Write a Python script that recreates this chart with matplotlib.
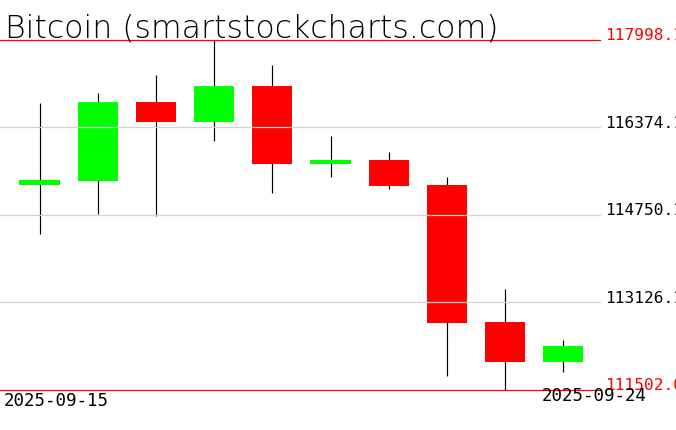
import matplotlib
matplotlib.use("Agg")
import matplotlib.pyplot as plt
import matplotlib.transforms as mtransforms
import numpy as np

# daily candles
dates = ["2025-09-15", "2025-09-16", "2025-09-17", "2025-09-18", "2025-09-19",
         "2025-09-20", "2025-09-21", "2025-09-22", "2025-09-23", "2025-09-24"]
opens = [115299, 115374, 116834, 116469, 117131, 115689, 115758, 115299, 112751, 112014]
highs = [116816, 117001, 117335, 117998.14, 117521, 116198, 115901, 115442, 113364, 112417]
lows = [114390, 114755, 114724, 116116, 115140, 115455, 115225, 111754, 111502.04, 111829]
closes = [115387, 116834, 116469, 117131, 115689, 115758, 115281, 112738, 112014, 112306]

title = "Bitcoin (smartstockcharts.com)"

W, H = 676, 431
fig = plt.figure(figsize=(W / 100, H / 100), dpi=100)
ax = fig.add_axes([0, (H - 390.5) / H, 600 / W, 350 / H])

x = np.arange(len(dates))
o = np.array(opens)
c = np.array(closes)
cols = ["#00ff00" if c[i] >= o[i] else "#ff0000" for i in range(len(x))]

ax.vlines(x, lows, highs, color="black", lw=0.85, zorder=1)
ax.bar(x, np.abs(c - o), bottom=np.minimum(o, c), width=0.69, color=cols, zorder=2)

lo = min(lows)
hi = max(highs)
levels = np.linspace(lo, hi, 5)
trans = mtransforms.blended_transform_factory(ax.transAxes, ax.transData)
for i, lv in enumerate(levels):
    edge = i == 0 or i == len(levels) - 1
    col = "#ff0000" if edge else "#d3d3d3"
    ax.axhline(lv, color=col, lw=0.9, zorder=3, clip_on=False)
    ax.text(605 / 600, lv, "%.1f" % lv, transform=trans, va="baseline", ha="left",
            color="#ff0000" if edge else "black", fontsize=11.6,
            family="DejaVu Sans Mono", clip_on=False)

ax.set_xlim(-0.68, 9.63)
ax.set_ylim(lo, hi)
ax.axis("off")

fig.text(5 / W, (H - 37) / H, title, fontsize=22.7, fontweight="light",
         color="black", va="baseline", ha="left")
fig.text(4 / W, (H - 406) / H, dates[0], fontsize=12.6, family="DejaVu Sans Mono",
         va="baseline", ha="left")
fig.text(647 / W, (H - 401) / H, dates[-1], fontsize=12.6, family="DejaVu Sans Mono",
         va="baseline", ha="right")

fig.savefig("out.png", dpi=100)
